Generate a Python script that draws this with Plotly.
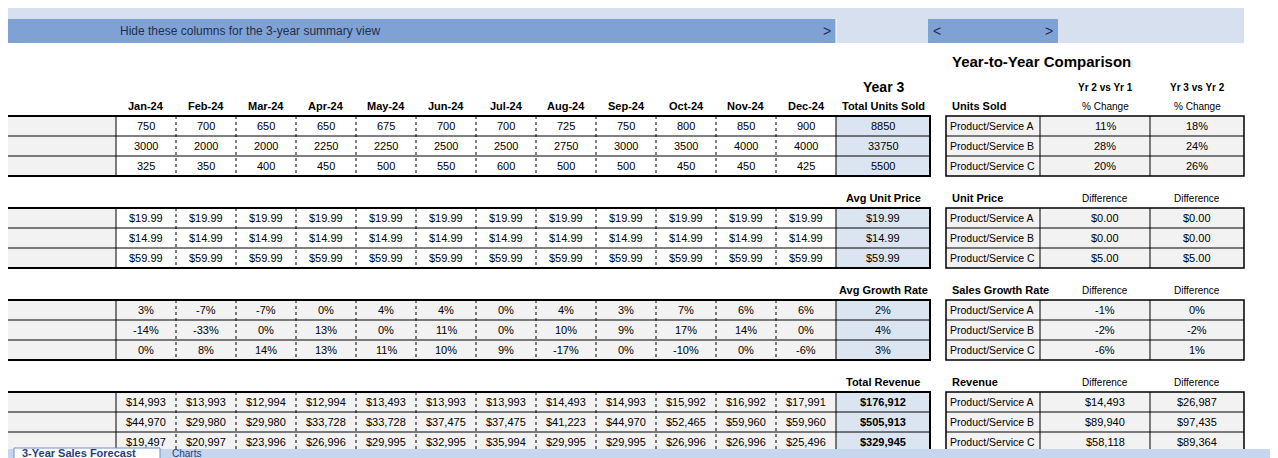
import plotly.graph_objects as go

months = ["Jan-24","Feb-24","Mar-24","Apr-24","May-24","Jun-24","Jul-24","Aug-24","Sep-24","Oct-24","Nov-24","Dec-24"]
products = ["Product/Service A","Product/Service B","Product/Service C"]

units = [[750,700,650,650,675,700,700,725,750,800,850,900],
         [3000,2000,2000,2250,2250,2500,2500,2750,3000,3500,4000,4000],
         [325,350,400,450,500,550,600,500,500,450,450,425]]
units_total = [8850,33750,5500]
prices = [19.99,14.99,59.99]
growth = [[3,-7,-7,0,4,4,0,4,3,7,6,6],
          [-14,-33,0,13,0,11,0,10,9,17,14,0],
          [0,8,14,13,11,10,9,-17,0,-10,0,-6]]
growth_avg = [2,4,3]
revenue = [[14993,13993,12994,12994,13493,13993,13993,14493,14993,15992,16992,17991],
           [44970,29980,29980,33728,33728,37475,37475,41223,44970,52465,59960,59960],
           [19497,20997,23996,26996,29995,32995,35994,29995,29995,26996,26996,25496]]
revenue_total = [176912,505913,329945]

cmp_units = [["11%","18%"],["28%","24%"],["20%","26%"]]
cmp_price = [["$0.00","$0.00"],["$0.00","$0.00"],["$5.00","$5.00"]]
cmp_growth = [["-1%","0%"],["-2%","-2%"],["-6%","1%"]]
cmp_rev = [["$14,493","$26,987"],["$89,940","$97,435"],["$58,118","$89,364"]]

FONT = "Liberation Sans, Arial, sans-serif"
shapes, ann = [], []

def rect(x0,y0,x1,y1,fill,lw=0,lc="black",dash="solid"):
    shapes.append(dict(type="rect",x0=x0,y0=y0,x1=x1,y1=y1,fillcolor=fill,
                       line=dict(width=lw,color=lc,dash=dash),layer="below"))
def line(x0,y0,x1,y1,w=1,dash="solid",c="black"):
    shapes.append(dict(type="line",x0=x0,y0=y0,x1=x1,y1=y1,line=dict(width=w,color=c,dash=dash)))
def text(x,y,t,size=11,bold=False,anchor="center",color="black"):
    ann.append(dict(x=x,y=y,text=f"<b>{t}</b>" if bold else t,showarrow=False,xanchor=anchor,
                    yanchor="middle",font=dict(family=FONT,size=size,color=color)))

# top banner
rect(0,0,1244,43,"#d6e0ef")
rect(0,19,836,43,"#7fa1d3")
rect(928,19,1058,43,"#7fa1d3")
line(836,19,836,43,1,c="#ffffff")
text(118,31,"Hide these columns for the 3-year summary view",12,anchor="left",color="#1f2f4f")
text(827,31,">",14,color="#1f2f4f")
text(937,31,"<",14,color="#1f2f4f")
text(1049,31,">",14,color="#1f2f4f")

text(1,61,"Sales Forecast Year 3",15,True,"left")
text(950,61,"Year-to-Year Comparison",15,True,"left")
text(883,87,"Year 3",14,True)
text(1105,87,"Yr 2 vs Yr 1",10,True)
text(1197,87,"Yr 3 vs Yr 2",10,True)

LX0, LX1 = 0, 116
MW = 60
TX0, TX1 = 836, 930
RX = [946, 1040, 1150, 1244]

def section(top, title, total_title, data, totals, fill, right_title, right_hdr, right_data):
    hy = top - 10
    text(0,hy,title,11,True,"left")
    text(883,hy,total_title,11,True)
    if title == "Units Sold":
        for i,m in enumerate(months):
            text(LX1+MW*i+MW/2,hy,m,11,True)
    y0 = top
    for r in range(3):
        ry = y0 + 20*r
        rect(LX0,ry,LX1,ry+20,"#f2f2f2")
        rect(LX1,ry,TX0,ry+20,fill)
        rect(TX0,ry,TX1,ry+20,"#dbe5f1")
        text(0,ry+10,products[r],10.5,anchor="left")
        for c in range(12):
            text(LX1+MW*c+MW/2,ry+10,data[r][c],11)
        text(883,ry+10,totals[r],11,title=="Revenue")
        if r>0:
            line(LX0,ry,TX1,ry,1)
    for c in range(1,12):
        line(LX1+MW*c,y0,LX1+MW*c,y0+60,1,"dot")
    line(LX1,y0,LX1,y0+60,1); line(TX0,y0,TX0,y0+60,1)
    shapes.append(dict(type="rect",x0=LX0-2,y0=y0,x1=TX1,y1=y0+60,line=dict(width=2,color="black")))
    # right table
    text(RX[0]+4,hy,right_title,11,True,"left")
    text(1105,hy,right_hdr,10)
    text(1197,hy,right_hdr,10)
    for r in range(3):
        ry = y0+20*r
        rect(RX[0],ry,RX[3],ry+20,"#f2f2f2")
        text(RX[0]+2,ry+10,products[r],10.5,anchor="left")
        text(1105,ry+10,right_data[r][0],11)
        text(1197,ry+10,right_data[r][1],11)
        if r>0: line(RX[0],ry,RX[3],ry,1)
    line(RX[1],y0,RX[1],y0+60,1); line(RX[2],y0,RX[2],y0+60,1)
    shapes.append(dict(type="rect",x0=RX[0],y0=y0,x1=RX[3],y1=y0+60,line=dict(width=1.5,color="black")))

section(116,"Units Sold","Total Units Sold",[[str(v) for v in row] for row in units],
        [str(v) for v in units_total],"#ffffff","Units Sold","% Change",cmp_units)
section(208,"Unit Price","Avg Unit Price",[[f"${p:.2f}"]*12 for p in prices],
        [f"${p:.2f}" for p in prices],"#ffffff","Unit Price","Difference",cmp_price)
section(300,"Sales Growth Rate","Avg Growth Rate",[[f"{v}%" for v in row] for row in growth],
        [f"{v}%" for v in growth_avg],"#f2f2f2","Sales Growth Rate","Difference",cmp_growth)
section(392,"Revenue","Total Revenue",[[f"${v:,}" for v in row] for row in revenue],
        [f"${v:,}" for v in revenue_total],"#f2f2f2","Revenue","Difference",cmp_rev)

# sheet tab bar
shapes.append(dict(type="rect",x0=0,y0=449,x1=1278,y1=460,fillcolor="#c6d6ee",line=dict(width=0)))
shapes.append(dict(type="rect",x0=14,y0=448,x1=160,y1=460,fillcolor="#ffffff",line=dict(width=1,color="#6f8fbf")))
text(20,453,"3-Year Sales Forecast",11,True,"left",color="#1f3f7f")
text(170,453,"Charts",10,anchor="left",color="#1f3f7f")
text(3,453,"▸|",7,anchor="left",color="#1f3f7f")

fig = go.Figure()
fig.update_layout(width=1278,height=458,margin=dict(l=0,r=0,t=0,b=0),
                  plot_bgcolor="white",paper_bgcolor="white",
                  xaxis=dict(range=[8,1286],visible=False,fixedrange=True),
                  yaxis=dict(range=[466,8],visible=False,fixedrange=True),
                  shapes=shapes,annotations=ann,showlegend=False)
fig.write_html("out.html")
